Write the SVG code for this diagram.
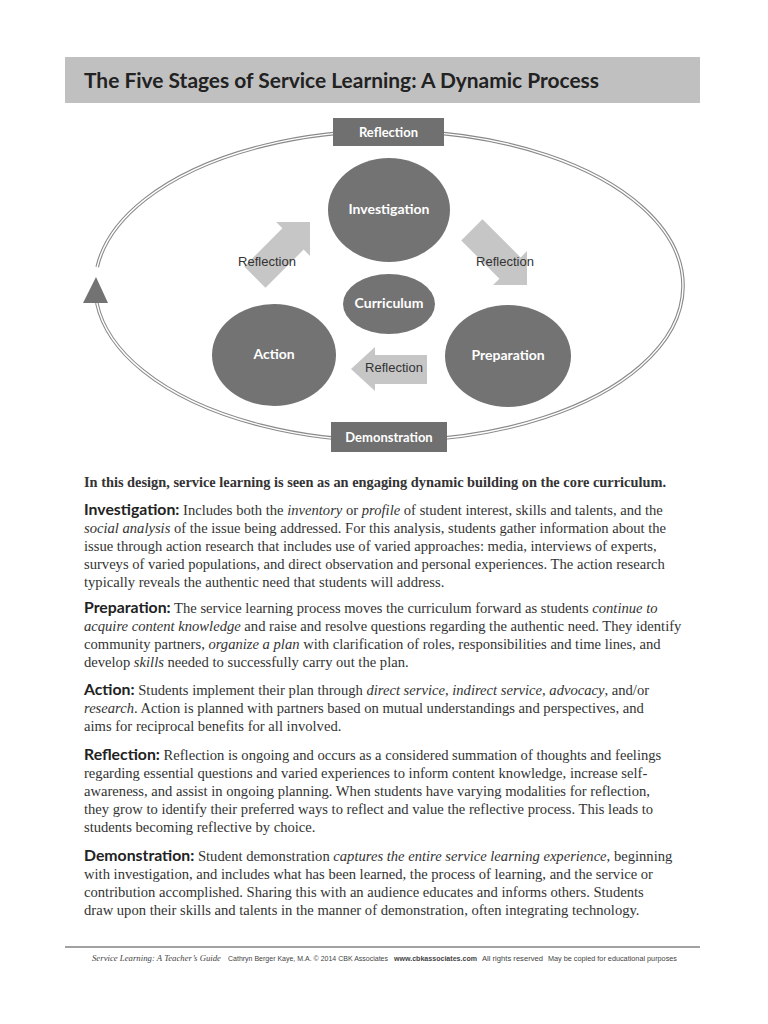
<svg xmlns="http://www.w3.org/2000/svg" width="768" height="1024" viewBox="0 0 768 1024">
<style>
.node{fill:#737373}
.nl{font-family:Lato,"Open Sans",sans-serif;font-weight:700;fill:#fff;text-anchor:middle}
.arr{fill:#c6c6c6}
.al{font-family:"Liberation Sans",Arial,sans-serif;font-size:13px;fill:#333;text-anchor:middle}
.body{font-family:"Liberation Serif","Times New Roman",serif;font-size:14.6px;fill:#333}
.h{font-family:Lato,"Open Sans",sans-serif;font-weight:700;font-size:15.8px;fill:#222}
.i{font-style:italic}
.ft{font-family:"Liberation Sans",Arial,sans-serif;font-size:7.5px;fill:#444}
.fti{font-family:"Liberation Serif","Times New Roman",serif;font-style:italic;font-size:8.5px;fill:#444}
</style>
<rect width="768" height="1024" fill="#fff"/>
<g id="title">
<rect x="65" y="57" width="635" height="46" fill="#c0c0c0"/>
<text x="84" y="88" font-family="Lato,'Open Sans',sans-serif" font-weight="700" font-size="21" fill="#222" textLength="515" lengthAdjust="spacingAndGlyphs">The Five Stages of Service Learning: A Dynamic Process</text>
</g>
<g id="connectors">
<path d="M97.2,267 A294,155 0 1 1 96.8,303" fill="none" stroke="#8a8a8a" stroke-width="3.6"/>
<path d="M97.2,267 A294,155 0 1 1 96.8,303" fill="none" stroke="#fff" stroke-width="1.4"/>
<polygon points="96,277 83,303 108,303" fill="#737373"/>
<g id="arrow-inv-prep">
<polygon class="arr" transform="translate(527,285) rotate(45)" points="0,0 -24,-24 -24,-15 -78,-15 -78,15 -24,15 -24,24"/>
<text class="al" x="505" y="266">Reflection</text>
</g>
<g id="arrow-prep-act">
<polygon class="arr" points="351,369 375,347 375,355 427,355 427,384 375,384 375,391"/>
<text class="al" x="394" y="372">Reflection</text>
</g>
<g id="arrow-act-inv">
<polygon class="arr" transform="translate(310,222) rotate(-45)" points="0,0 -24,-24 -24,-15 -78,-15 -78,15 -24,15 -24,24"/>
<text class="al" x="267" y="266">Reflection</text>
</g>
</g>
<g id="reflection-box">
<rect x="333" y="118" width="111" height="28" fill="#707070"/>
<text class="nl" x="388.5" y="137" font-size="13">Reflection</text>
</g>
<g id="demonstration-box">
<rect x="331" y="422" width="116" height="30" fill="#707070"/>
<text class="nl" x="389" y="442" font-size="13">Demonstration</text>
</g>
<g id="investigation">
<ellipse class="node" cx="389" cy="210" rx="61" ry="52"/>
<text class="nl" x="389" y="214" font-size="14">Investigation</text>
</g>
<g id="curriculum">
<ellipse class="node" cx="389" cy="304" rx="46" ry="30"/>
<text class="nl" x="389" y="308" font-size="14">Curriculum</text>
</g>
<g id="action">
<ellipse class="node" cx="274" cy="355" rx="62" ry="51"/>
<text class="nl" x="274" y="359" font-size="14">Action</text>
</g>
<g id="preparation">
<ellipse class="node" cx="508" cy="356" rx="63" ry="51"/>
<text class="nl" x="508" y="360" font-size="14">Preparation</text>
</g>
<g id="text">
<text class="body" x="84" y="487" font-weight="700" fill="#222" textLength="582" lengthAdjust="spacingAndGlyphs">In this design, service learning is seen as an engaging dynamic building on the core curriculum.</text>
<text class="body" x="84" y="515"><tspan class="h">Investigation:</tspan> Includes both the <tspan class="i">inventory</tspan> or <tspan class="i">profile</tspan> of student interest, skills and talents, and the</text>
<text class="body" x="84" y="533"><tspan class="i">social analysis</tspan> of the issue being addressed. For this analysis, students gather information about the</text>
<text class="body" x="84" y="551">issue through action research that includes use of varied approaches: media, interviews of experts,</text>
<text class="body" x="84" y="569">surveys of varied populations, and direct observation and personal experiences. The action research</text>
<text class="body" x="84" y="587">typically reveals the authentic need that students will address.</text>
<text class="body" x="84" y="613"><tspan class="h">Preparation:</tspan> The service learning process moves the curriculum forward as students <tspan class="i">continue to</tspan></text>
<text class="body" x="84" y="631"><tspan class="i">acquire content knowledge</tspan> and raise and resolve questions regarding the authentic need. They identify</text>
<text class="body" x="84" y="649">community partners, <tspan class="i">organize a plan</tspan> with clarification of roles, responsibilities and time lines, and</text>
<text class="body" x="84" y="667">develop <tspan class="i">skills</tspan> needed to successfully carry out the plan.</text>
<text class="body" x="84" y="695"><tspan class="h">Action:</tspan> Students implement their plan through <tspan class="i">direct service</tspan>, <tspan class="i">indirect service</tspan>, <tspan class="i">advocacy</tspan>, and/or</text>
<text class="body" x="84" y="713"><tspan class="i">research</tspan>. Action is planned with partners based on mutual understandings and perspectives, and</text>
<text class="body" x="84" y="731">aims for reciprocal benefits for all involved.</text>
<text class="body" x="84" y="760"><tspan class="h">Reflection:</tspan> Reflection is ongoing and occurs as a considered summation of thoughts and feelings</text>
<text class="body" x="84" y="778">regarding essential questions and varied experiences to inform content knowledge, increase self-</text>
<text class="body" x="84" y="796">awareness, and assist in ongoing planning. When students have varying modalities for reflection,</text>
<text class="body" x="84" y="814">they grow to identify their preferred ways to reflect and value the reflective process. This leads to</text>
<text class="body" x="84" y="832">students becoming reflective by choice.</text>
<text class="body" x="84" y="861"><tspan class="h">Demonstration:</tspan> Student demonstration <tspan class="i">captures the entire service learning experience</tspan>, beginning</text>
<text class="body" x="84" y="879">with investigation, and includes what has been learned, the process of learning, and the service or</text>
<text class="body" x="84" y="897">contribution accomplished. Sharing this with an audience educates and informs others. Students</text>
<text class="body" x="84" y="915">draw upon their skills and talents in the manner of demonstration, often integrating technology.</text>
</g>
<g id="footer">
<line x1="65" y1="947" x2="700" y2="947" stroke="#444" stroke-width="1"/>
<text class="fti" x="92" y="961" textLength="129" lengthAdjust="spacingAndGlyphs">Service Learning: A Teacher’s Guide</text>
<text class="ft" x="228" y="961" textLength="160" lengthAdjust="spacingAndGlyphs">Cathryn Berger Kaye, M.A. © 2014 CBK Associates</text>
<text class="ft" x="394" y="961" font-weight="700" textLength="83" lengthAdjust="spacingAndGlyphs">www.cbkassociates.com</text>
<text class="ft" x="482" y="961" textLength="61" lengthAdjust="spacingAndGlyphs">All rights reserved</text>
<text class="ft" x="548" y="961" textLength="129" lengthAdjust="spacingAndGlyphs">May be copied for educational purposes</text>
</g>
</svg>
